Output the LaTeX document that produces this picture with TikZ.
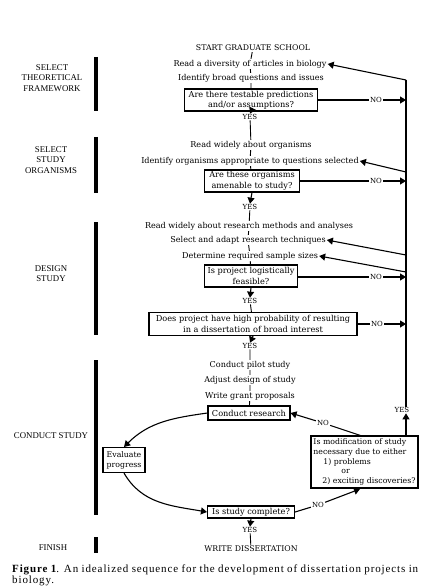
\documentclass[tikz,border=0pt]{standalone}
\usepackage{fontspec}
\setmainfont{Liberation Serif}
\newfontfamily\flowfont{DejaVu Serif}
\newfontfamily\captfont[LetterSpace=8]{Liberation Serif}
\usetikzlibrary{arrows.meta}
\begin{document}
\begin{tikzpicture}[x=1pt,y=-1pt,
  txt/.style={font=\flowfont\fontsize{8.1}{9}\selectfont, inner sep=1pt},
  capstext/.style={font=\flowfont\fontsize{7.8}{9}\selectfont, inner sep=1pt},
  yes/.style={font=\flowfont\fontsize{7}{8}\selectfont, inner sep=0.5pt},
  nolbl/.style={font=\flowfont\fontsize{7}{8}\selectfont, inner sep=1pt, fill=white},
  qbox/.style={draw, line width=1.1pt, font=\flowfont\fontsize{8.2}{10.5}\selectfont, align=center, fill=white, inner sep=0.5pt, minimum height=22pt},
  lbl/.style={font=\fontsize{8.8}{10.5}\selectfont, align=center},
  flow/.style={line width=0.9pt},
  rline/.style={line width=1.1pt},
  arr/.style={line width=1.1pt, -{Triangle[length=6pt,width=7pt]}},
  bar/.style={line width=4pt},
]
\useasboundingbox (0,0) rectangle (445,588);
\fill[white] (0,0) rectangle (445,588);

% left labels and bars
\node[lbl] (l1) at (52,78) {SELECT\\THEORETICAL\\FRAMEWORK};
\node[lbl] (l2) at (51,160) {SELECT\\STUDY\\ORGANISMS};
\node[lbl] (l3) at (51,273.5) {DESIGN\\STUDY};
\node[lbl] (l4) at (51,436) {CONDUCT STUDY};
\node[lbl] (l5) at (53,548) {FINISH};
\draw[bar] (96,57) -- (96,111);
\draw[bar] (96,137) -- (96,193);
\draw[bar] (96,222) -- (96,335);
\draw[bar] (96,360) -- (96,515);
\draw[bar] (96,537) -- (96,553);

% section 1
\node[capstext] (start) at (253,48) {START GRADUATE SCHOOL};
\node[txt] (read1) at (250,64) {Read a diversity of articles in biology};
\node[txt] (ident1) at (251,78) {Identify broad questions and issues};
\node[qbox, minimum width=133pt] (box1) at (251,100) {Are there testable predictions\\and/or assumptions?};
\node[yes] (yes1) at (250,117) {YES};

% section 2
\node[txt] (read2) at (251,145) {Read widely about organisms};
\node[txt] (ident2) at (250,161) {Identify organisms appropriate to questions selected};
\node[qbox, minimum width=95pt] (box2) at (252,181) {Are these organisms\\amenable to study?};
\node[yes] (yes2) at (250,207) {YES};

% section 3
\node[txt] (read3) at (249,226) {Read widely about research methods and analyses};
\node[txt] (select3) at (248,240) {Select and adapt research techniques};
\node[txt] (det3) at (250,256) {Determine required sample sizes};
\node[qbox, minimum width=93pt] (box3) at (251,276) {Is project logistically\\feasible?};
\node[yes] (yes3) at (250,301) {YES};
\node[qbox, minimum width=208pt, minimum height=23pt] (box4) at (253,324) {Does project have high probability of resulting\\in a dissertation of broad interest};
\node[yes] (yes4) at (250,346) {YES};

% section 4
\node[txt] (pilot) at (250,365) {Conduct pilot study};
\node[txt] (adjust) at (250,380) {Adjust design of study};
\node[txt] (grant) at (250,396) {Write grant proposals};
\node[qbox, minimum width=82pt, minimum height=14pt] (cres) at (249,413) {Conduct research};
\node[qbox, minimum width=42pt, minimum height=25pt, font=\flowfont\fontsize{7.8}{9.8}\selectfont] (eval) at (124,460) {Evaluate\\progress};
\node[qbox, minimum width=87pt, minimum height=12pt, inner sep=0.5pt] (complete) at (251,512) {Is study complete?};
\node[yes] (yes5) at (250,530) {YES};
\node[capstext] (write) at (251,549) {WRITE DISSERTATION};
\node[qbox, minimum width=107pt, minimum height=52pt, align=left, inner sep=1.5pt, font=\flowfont\fontsize{7.8}{9.6}\selectfont] (modif) at (364.5,462)
  {Is modification of study\\necessary due to either\\\hspace*{10pt}1) problems\\\hspace*{28pt}or\\\hspace*{9pt}2) exciting discoveries?};
\node[yes] (yes6) at (402,410) {YES};

% central flow
\draw[flow] (start) -- (read1) -- (ident1) -- (box1);
\draw[arr] (box1.south) -- (yes1.north);
\draw[flow] (yes1) -- (read2) -- (ident2) -- (box2);
\draw[arr] (box2.south) -- (yes2.north);
\draw[flow] (yes2) -- (read3) -- (select3) -- (det3) -- (box3);
\draw[arr] (box3.south) -- (yes3.north);
\draw[flow] (yes3) -- (box4);
\draw[arr] (box4.south) -- (yes4.north);
\draw[flow] (yes4) -- (pilot) -- (adjust) -- (grant) -- (cres);
\draw[arr] (complete.south) -- (yes5.north);
\draw[flow] (yes5) -- (write);

% right return line
\coordinate (rtop) at (406,80);
\coordinate (rbot) at (406,404);
\draw[rline] (rtop) -- (rbot);
\draw[arr] (rtop) -- (read1.east);
\coordinate (r2) at (406,172);
\draw[arr] (r2) -- (ident2.east);
\coordinate (r3) at (406,255);
\draw[arr] (r3) -- (select3.east);
\coordinate (r4) at (406,272);
\draw[arr] (r4) -- (det3.east);

% NO arrows to the right line
\node[nolbl] (no1) at (376,100) {NO};
\draw[rline] (box1.east) -- (no1);
\draw[arr] (no1) -- (no1 -| rtop);
\node[nolbl] (no2) at (376,181) {NO};
\draw[rline] (box2.east) -- (no2);
\draw[arr] (no2) -- (no2 -| rtop);
\node[nolbl] (no3) at (376,277) {NO};
\draw[rline] (box3.east |- no3) -- (no3);
\draw[arr] (no3) -- (no3 -| rtop);
\node[nolbl] (no4) at (377,324) {NO};
\draw[rline] (box4.east) -- (no4);
\draw[arr] (no4) -- (no4 -| rtop);

% conduct study loop
\draw[arr] (cres.west) to[out=188,in=45] (eval.north);
\draw[arr] (eval.south) to[out=-60,in=170] (complete.west);
\node[nolbl] (noC) at (318,505) {NO};
\coordinate (m2) at (360,489);
\draw[rline] (complete.east) -- (noC);
\draw[arr] (noC) -- (m2);
\coordinate (m1) at (362,436);
\node[nolbl] (noM) at (323,423) {NO};
\draw[rline] (m1) -- (noM);
\draw[arr] (noM) -- (cres.east);
\draw[arr] (modif.north -| rtop) -- (yes6.south -| rtop);
\draw[rline] (yes6.north -| rtop) -- (rbot);

% caption
\node[anchor=west, inner sep=0pt, font=\captfont\fontsize{11}{12}\selectfont] (capt1) at (12,570)
  {\hbox to 406pt{\textbf{Figure 1}. An idealized sequence for the development of dissertation projects in}};
\node[anchor=west, inner sep=0pt, font=\captfont\fontsize{11}{12}\selectfont] (capt2) at (12,581) {biology.};
\end{tikzpicture}
\end{document}
